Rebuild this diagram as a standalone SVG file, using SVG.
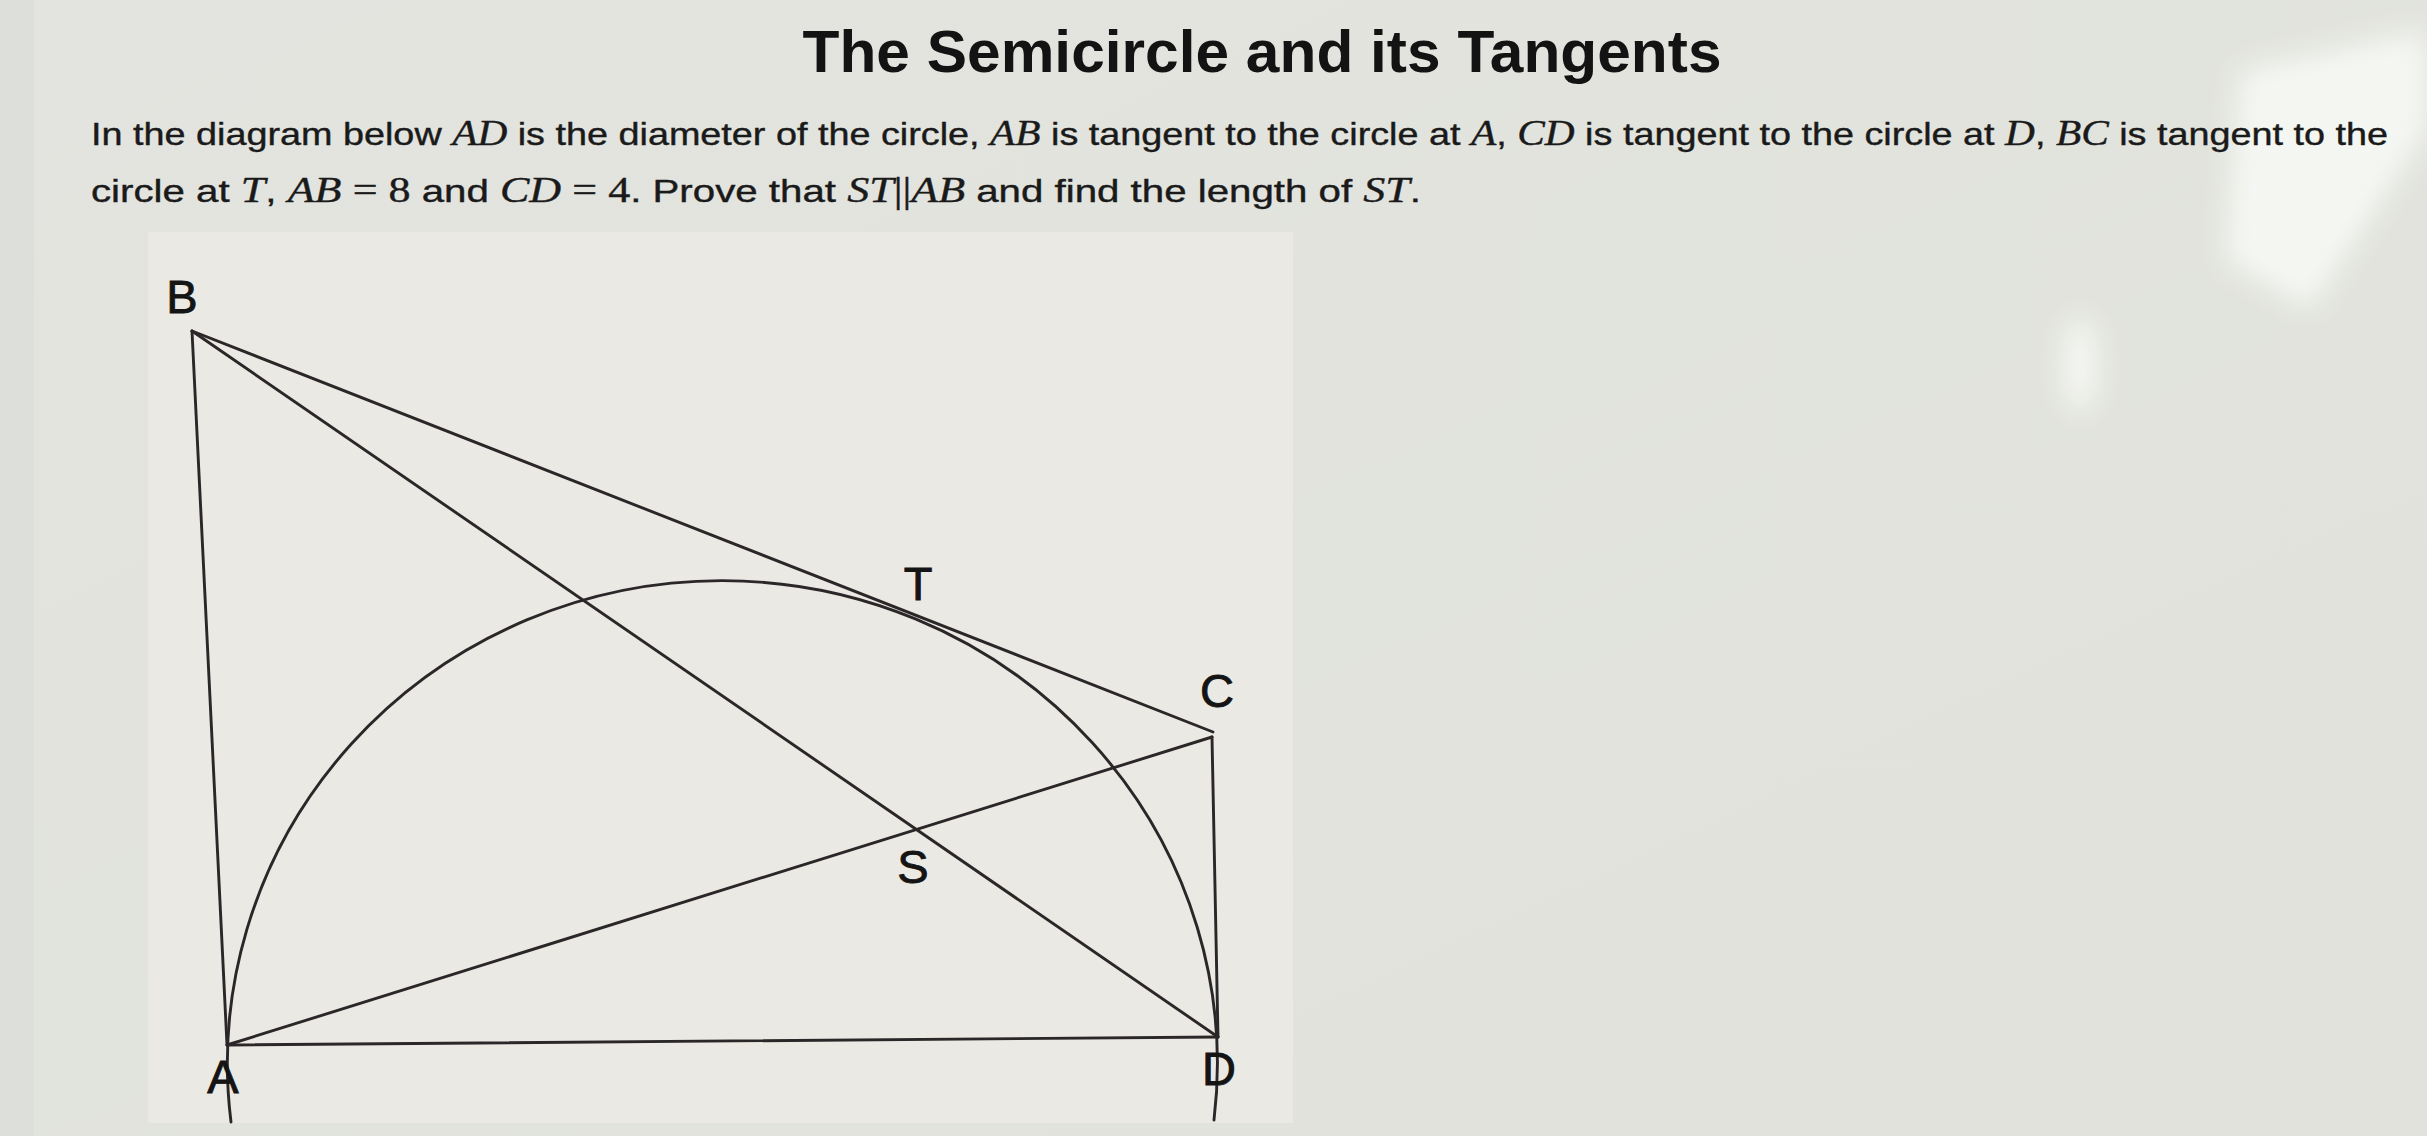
<svg xmlns="http://www.w3.org/2000/svg" width="2427" height="1136" viewBox="0 0 2427 1136">
  <defs>
    <style>
      .title { font-family: "Liberation Sans", Arial, sans-serif; font-weight: bold; font-size: 60px; fill: #131313; }
      .p { font-family: "Liberation Sans", Arial, sans-serif; font-size: 32px; fill: #1a1a1a; stroke: #1a1a1a; stroke-width: 0.4; }
      .m { font-family: "Liberation Serif", "Times New Roman", serif; font-style: italic; font-size: 35px; }
      .n { font-family: "Liberation Serif", "Times New Roman", serif; font-size: 35px; }
      .lbl { font-family: "Liberation Sans", Arial, sans-serif; font-size: 47px; fill: #141414; stroke: #141414; stroke-width: 0.9; text-anchor: middle; }
      .ln { stroke: #2b2729; stroke-width: 2.9; fill: none; stroke-linecap: round; }
    </style>
    <linearGradient id="bg" x1="0" y1="0" x2="1" y2="1">
      <stop offset="0" stop-color="#e3e4df"/>
      <stop offset="1" stop-color="#e0e2db"/>
    </linearGradient>
    <filter id="blur" x="-50%" y="-50%" width="200%" height="200%">
      <feGaussianBlur stdDeviation="14"/>
    </filter>
  </defs>

  <!-- page background -->
  <rect x="0" y="0" width="2427" height="1136" fill="url(#bg)"/>
  <rect x="0" y="0" width="34" height="1136" fill="#dddfdb"/>
  <!-- glare -->
  <g opacity="0.9" filter="url(#blur)">
    <polygon points="2240,70 2427,30 2427,130 2310,310 2225,260" fill="#f7f9f5"/>
    <ellipse cx="2080" cy="365" rx="16" ry="48" fill="#fafcf8"/>
  </g>

  <!-- title and problem text -->
  <text class="title" x="1262" y="72" text-anchor="middle" textLength="919" lengthAdjust="spacingAndGlyphs">The Semicircle and its Tangents</text>
  <text class="p" x="91" y="145" textLength="2297" lengthAdjust="spacingAndGlyphs">In the diagram below <tspan class="m">AD</tspan> is the diameter of the circle, <tspan class="m">AB</tspan> is tangent to the circle at <tspan class="m">A</tspan>, <tspan class="m">CD</tspan> is tangent to the circle at <tspan class="m">D</tspan>, <tspan class="m">BC</tspan> is tangent to the</text>
  <text class="p" x="91" y="202" textLength="1330" lengthAdjust="spacingAndGlyphs">circle at <tspan class="m">T</tspan>, <tspan class="m">AB</tspan> <tspan class="n">= 8</tspan> and <tspan class="m">CD</tspan> <tspan class="n">= 4</tspan>. Prove that <tspan class="m">ST</tspan><tspan class="n">||</tspan><tspan class="m">AB</tspan> and find the length of <tspan class="m">ST</tspan>.</text>

  <!-- diagram panel -->
  <rect id="panel" x="148" y="232" width="1145" height="891" fill="#ebe9e3"/>

  <!-- semicircle -->
  <g id="semicircle">
    <path class="ln" d="M 231 1122 A 495 483 0 1 1 1214 1120"/>
  </g>

  <!-- connectors -->
  <g id="connectors">
    <line id="AB" class="ln" x1="192" y1="331" x2="227" y2="1045"/>
    <line id="BC" class="ln" x1="192" y1="331" x2="1213" y2="732"/>
    <line id="BD" class="ln" x1="192" y1="331" x2="1218" y2="1037"/>
    <line id="AC" class="ln" x1="227" y1="1045" x2="1212" y2="737"/>
    <line id="CD" class="ln" x1="1212" y1="737" x2="1218" y2="1037"/>
    <line id="AD" class="ln" x1="227" y1="1045" x2="1218" y2="1037"/>
  </g>

  <!-- point labels -->
  <g id="node-B"><text class="lbl" x="182" y="313">B</text></g>
  <g id="node-A"><text class="lbl" x="223" y="1093">A</text></g>
  <g id="node-D"><text class="lbl" x="1219" y="1085">D</text></g>
  <g id="node-C"><text class="lbl" x="1217" y="707">C</text></g>
  <g id="node-T"><text class="lbl" x="918" y="600">T</text></g>
  <g id="node-S"><text class="lbl" x="913" y="883">S</text></g>
</svg>
